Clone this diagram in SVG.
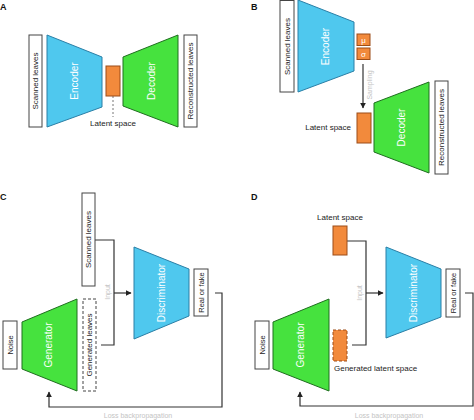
<svg xmlns="http://www.w3.org/2000/svg" width="474" height="420" viewBox="0 0 474 420">
<defs>
<style>
text{font-family:"Liberation Sans",Arial,sans-serif;}
.lbl{font-size:9px;font-weight:bold;fill:#111;}
.box{fill:#fff;stroke:#444;stroke-width:1;}
.dbox{fill:#fff;stroke:#444;stroke-width:1;stroke-dasharray:3,2;}
.enc{fill:#4fc8ee;stroke:#2a7fa6;stroke-width:1;}
.dec{fill:#46e23e;stroke:#1f6e1f;stroke-width:1;}
.lat{fill:#f28a3c;stroke:#9c4d18;stroke-width:1;}
.dlat{fill:#f28a3c;stroke:#9c4d18;stroke-width:1;stroke-dasharray:3,2;}
.t8{font-size:8px;fill:#222;}
.t7{font-size:7.5px;fill:#222;}
.big{font-size:10px;fill:#fff;}
.gray{font-size:7px;fill:#c4c4c4;}
.c{text-anchor:middle;}
.conn{fill:none;stroke:#333;stroke-width:1.2;}
</style>
<marker id="arr" viewBox="0 0 10 10" refX="9" refY="5" markerWidth="5" markerHeight="5" orient="auto">
<path d="M0,0 L10,5 L0,10 z" fill="#222"/>
</marker>
</defs>

<text class="lbl" x="0" y="10">A</text>
<text class="lbl" x="251" y="10">B</text>
<text class="lbl" x="0" y="200">C</text>
<text class="lbl" x="251" y="200">D</text>

<g id="connectors">
<line x1="113" y1="96" x2="113" y2="117" stroke="#777" stroke-width="1" stroke-dasharray="2,2"/>
<line class="conn" x1="363" y1="64" x2="363" y2="108" marker-end="url(#arr)"/>
<path class="conn" d="M95 240 H114 V345 H101"/>
<path class="conn" d="M114 293 H131" marker-end="url(#arr)"/>
<path class="conn" d="M215 293 H222 V407 H49 V392" marker-end="url(#arr)"/>
<path class="conn" d="M347 241 H366 V345 H352"/>
<path class="conn" d="M366 293 H383" marker-end="url(#arr)"/>
<path class="conn" d="M465 293 H473 V406 H300 V392" marker-end="url(#arr)"/>
<text class="gray c" transform="translate(370,85) rotate(-90)" dy="0.35em">Sampling</text>
<text class="gray c" transform="translate(108,292) rotate(-90)" dy="0.35em">Input</text>
<text class="gray c" transform="translate(360,293) rotate(-90)" dy="0.35em">Input</text>
<text class="gray c" x="138" y="418">Loss backpropagation</text>
<text class="gray c" x="389" y="418">Loss backpropagation</text>
</g>

<!-- Panel A -->
<g id="a-scanned">
<rect class="box" x="29" y="35" width="13" height="92"/>
<text class="t8 c" transform="translate(35.5,81) rotate(-90)" dy="0.35em">Scanned leaves</text>
</g>
<g id="a-encoder">
<polygon class="enc" points="47,35 102,57 102,107 47,127"/>
<text class="big c" transform="translate(74.5,81) rotate(-90)" dy="0.35em">Encoder</text>
</g>
<g id="a-latent">
<rect class="lat" x="106" y="66" width="14" height="30"/>
<text class="t8 c" x="113" y="126">Latent space</text>
</g>
<g id="a-decoder">
<polygon class="dec" points="123,57 178,35 178,127 123,106"/>
<text class="big c" transform="translate(151,81) rotate(-90)" dy="0.35em">Decoder</text>
</g>
<g id="a-recon">
<rect class="box" x="184" y="35" width="13" height="92"/>
<text class="t8 c" transform="translate(190.5,81) rotate(-90)" dy="0.35em">Reconstructed leaves</text>
</g>

<!-- Panel B -->
<g id="b-scanned">
<rect class="box" x="280" y="0.5" width="14" height="91.5"/>
<text class="t8 c" transform="translate(287,46.5) rotate(-90)" dy="0.35em">Scanned leaves</text>
</g>
<g id="b-encoder">
<polygon class="enc" points="298,0 354,22 354,71 298,92"/>
<text class="big c" transform="translate(325,46.5) rotate(-90)" dy="0.35em">Encoder</text>
</g>
<g id="b-mu">
<rect class="lat" x="357" y="34" width="13" height="11.5"/>
<text class="c" x="363.5" y="43" font-size="8" fill="#fff">μ</text>
</g>
<g id="b-sigma">
<rect class="lat" x="357" y="48" width="13" height="11.5"/>
<text class="c" x="363.5" y="56.5" font-size="8" fill="#fff">σ</text>
</g>
<g id="b-latent">
<rect class="lat" x="357" y="113" width="14" height="30"/>
<text class="t8" x="351" y="130" text-anchor="end">Latent space</text>
</g>
<g id="b-decoder">
<polygon class="dec" points="374,103 429,82 429,173 374,152"/>
<text class="big c" transform="translate(401,127.5) rotate(-90)" dy="0.35em">Decoder</text>
</g>
<g id="b-recon">
<rect class="box" x="435" y="81" width="13" height="93"/>
<text class="t8 c" transform="translate(441.5,127.5) rotate(-90)" dy="0.35em">Reconstructed leaves</text>
</g>

<!-- Panel C -->
<g id="c-scanned">
<rect class="box" x="82" y="193" width="13" height="93"/>
<text class="t8 c" transform="translate(88.5,239.5) rotate(-90)" dy="0.35em">Scanned leaves</text>
</g>
<g id="c-generated">
<rect class="dbox" x="83" y="299" width="13" height="92"/>
<text class="t8 c" transform="translate(89.5,345) rotate(-90)" dy="0.35em">Generated leaves</text>
</g>
<g id="c-discriminator">
<polygon class="enc" points="134,247 189,269 189,316 134,339"/>
<text class="big c" transform="translate(161,293) rotate(-90)" dy="0.35em">Discriminator</text>
</g>
<g id="c-realfake">
<rect class="box" x="194" y="269" width="14" height="47"/>
<text class="t7 c" transform="translate(201,292.5) rotate(-90)" dy="0.35em">Real or fake</text>
</g>
<g id="c-noise">
<rect class="box" x="3" y="321" width="14" height="48"/>
<text class="t7 c" transform="translate(10,345) rotate(-90)" dy="0.35em">Noise</text>
</g>
<g id="c-generator">
<polygon class="dec" points="22,322 77,299 77,391 22,369"/>
<text class="big c" transform="translate(48,345) rotate(-90)" dy="0.35em">Generator</text>
</g>

<!-- Panel D -->
<g id="d-latent">
<text class="t8 c" x="340" y="220">Latent space</text>
<rect class="lat" x="333" y="226" width="14" height="29"/>
</g>
<g id="d-genlatent">
<rect class="dlat" x="333" y="330" width="14" height="31"/>
<text class="t8" x="334" y="371">Generated latent space</text>
</g>
<g id="d-discriminator">
<polygon class="enc" points="386,247 441,269 441,317 386,338"/>
<text class="big c" transform="translate(413,293) rotate(-90)" dy="0.35em">Discriminator</text>
</g>
<g id="d-realfake">
<rect class="box" x="446" y="269" width="14" height="48"/>
<text class="t7 c" transform="translate(453,293) rotate(-90)" dy="0.35em">Real or fake</text>
</g>
<g id="d-noise">
<rect class="box" x="255" y="321" width="14" height="48"/>
<text class="t7 c" transform="translate(262,345) rotate(-90)" dy="0.35em">Noise</text>
</g>
<g id="d-generator">
<polygon class="dec" points="273,322 329,299 329,391 273,369"/>
<text class="big c" transform="translate(300,345) rotate(-90)" dy="0.35em">Generator</text>
</g>
</svg>
